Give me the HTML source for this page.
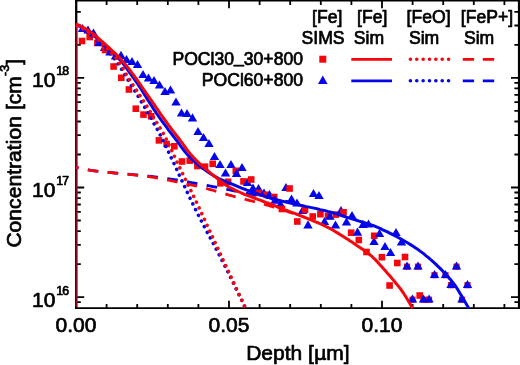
<!DOCTYPE html>
<html lang="en"><head><meta charset="utf-8"><title>Fe concentration depth profile</title>
<style>html,body{margin:0;padding:0;background:#fff}body{width:520px;height:365px;overflow:hidden}svg{display:block}</style>
</head><body>
<svg width="520" height="365" viewBox="0 0 520 365" font-family="'Liberation Sans', Arial, sans-serif" fill="#000" stroke="none">
<rect width="520" height="365" fill="#fff"/>
<defs><clipPath id="c"><rect x="75.6" y="0" width="443" height="309"/></clipPath></defs>
<g stroke="#000" fill="none">
<path d="M76.2,0 V309.0" stroke-width="2.3"/>
<path d="M519,0 V309.0" stroke-width="2.2"/>
<path d="M75.0,308.1 H520" stroke-width="1.9"/>
<path d="M75.0,0.45 H520" stroke-width="2.3"/>
<path d="M106.6,308.1 v-4.0 M106.6,0.45 v4.6 M137.2,308.1 v-4.0 M137.2,0.45 v4.6 M167.8,308.1 v-4.0 M167.8,0.45 v4.6 M198.4,308.1 v-4.0 M198.4,0.45 v4.6 M229.0,308.1 v-7.3 M229.0,0.45 v7.8999999999999995 M259.6,308.1 v-4.0 M259.6,0.45 v4.6 M290.2,308.1 v-4.0 M290.2,0.45 v4.6 M320.8,308.1 v-4.0 M320.8,0.45 v4.6 M351.4,308.1 v-4.0 M351.4,0.45 v4.6 M382.0,308.1 v-7.3 M382.0,0.45 v7.8999999999999995 M412.6,308.1 v-4.0 M412.6,0.45 v4.6 M443.2,308.1 v-4.0 M443.2,0.45 v4.6 M473.8,308.1 v-4.0 M473.8,0.45 v4.6 M504.4,308.1 v-4.0 M504.4,0.45 v4.6" stroke-width="1.8"/>
<path d="M76.2,302.2 h4.6 M519,302.2 h-4.6 M76.2,297.2 h8.0 M519,297.2 h-8.0 M76.2,264.2 h4.6 M519,264.2 h-4.6 M76.2,244.9 h4.6 M519,244.9 h-4.6 M76.2,231.2 h4.6 M519,231.2 h-4.6 M76.2,220.5 h4.6 M519,220.5 h-4.6 M76.2,211.8 h4.6 M519,211.8 h-4.6 M76.2,204.5 h4.6 M519,204.5 h-4.6 M76.2,198.1 h4.6 M519,198.1 h-4.6 M76.2,192.5 h4.6 M519,192.5 h-4.6 M76.2,187.5 h8.0 M519,187.5 h-8.0 M76.2,154.5 h4.6 M519,154.5 h-4.6 M76.2,135.2 h4.6 M519,135.2 h-4.6 M76.2,121.5 h4.6 M519,121.5 h-4.6 M76.2,110.8 h4.6 M519,110.8 h-4.6 M76.2,102.1 h4.6 M519,102.1 h-4.6 M76.2,94.8 h4.6 M519,94.8 h-4.6 M76.2,88.4 h4.6 M519,88.4 h-4.6 M76.2,82.8 h4.6 M519,82.8 h-4.6 M76.2,77.8 h8.0 M519,77.8 h-8.0 M76.2,44.8 h4.6 M519,44.8 h-4.6 M76.2,25.5 h4.6 M519,25.5 h-4.6 M76.2,11.8 h4.6 M519,11.8 h-4.6" stroke-width="1.8"/>
</g>
<g clip-path="url(#c)">
<rect x="78.7" y="37.7" width="6.6" height="6.6" fill="#f6060c"/>
<path d="M82.5,23.9 L87.2,32.1 L77.8,32.1Z" fill="#0505ea"/>
<path d="M88.0,25.4 L92.7,33.6 L83.3,33.6Z" fill="#0505ea"/>
<rect x="86.4" y="33.7" width="6.6" height="6.6" fill="#f6060c"/>
<path d="M93.5,28.4 L98.2,36.6 L88.8,36.6Z" fill="#0505ea"/>
<rect x="94.1" y="39.7" width="6.6" height="6.6" fill="#f6060c"/>
<path d="M99.0,37.9 L103.7,46.1 L94.3,46.1Z" fill="#0505ea"/>
<path d="M104.5,42.9 L109.2,51.1 L99.8,51.1Z" fill="#0505ea"/>
<rect x="101.8" y="46.7" width="6.6" height="6.6" fill="#f6060c"/>
<path d="M110.0,47.4 L114.7,55.6 L105.3,55.6Z" fill="#0505ea"/>
<rect x="110.3" y="63.2" width="6.6" height="6.6" fill="#f6060c"/>
<path d="M115.5,51.4 L120.2,59.6 L110.8,59.6Z" fill="#0505ea"/>
<path d="M121.0,50.7 L125.7,58.9 L116.3,58.9Z" fill="#0505ea"/>
<rect x="118.0" y="74.5" width="6.6" height="6.6" fill="#f6060c"/>
<path d="M126.5,54.9 L131.2,63.1 L121.8,63.1Z" fill="#0505ea"/>
<rect x="125.6" y="86.2" width="6.6" height="6.6" fill="#f6060c"/>
<path d="M132.0,56.9 L136.7,65.1 L127.3,65.1Z" fill="#0505ea"/>
<rect x="132.5" y="105.4" width="6.6" height="6.6" fill="#f6060c"/>
<path d="M137.5,59.9 L142.2,68.1 L132.8,68.1Z" fill="#0505ea"/>
<path d="M143.0,69.9 L147.7,78.1 L138.3,78.1Z" fill="#0505ea"/>
<rect x="140.2" y="111.3" width="6.6" height="6.6" fill="#f6060c"/>
<path d="M148.5,73.4 L153.2,81.6 L143.8,81.6Z" fill="#0505ea"/>
<rect x="147.9" y="113.0" width="6.6" height="6.6" fill="#f6060c"/>
<path d="M154.0,75.9 L158.7,84.1 L149.3,84.1Z" fill="#0505ea"/>
<rect x="155.6" y="137.1" width="6.6" height="6.6" fill="#f6060c"/>
<path d="M159.5,80.4 L164.2,88.6 L154.8,88.6Z" fill="#0505ea"/>
<path d="M165.0,86.9 L169.7,95.1 L160.3,95.1Z" fill="#0505ea"/>
<rect x="163.3" y="140.7" width="6.6" height="6.6" fill="#f6060c"/>
<path d="M170.5,85.4 L175.2,93.6 L165.8,93.6Z" fill="#0505ea"/>
<rect x="171.0" y="143.0" width="6.6" height="6.6" fill="#f6060c"/>
<path d="M176.0,97.4 L180.7,105.6 L171.3,105.6Z" fill="#0505ea"/>
<path d="M181.5,108.4 L186.2,116.6 L176.8,116.6Z" fill="#0505ea"/>
<rect x="178.7" y="158.2" width="6.6" height="6.6" fill="#f6060c"/>
<path d="M187.0,108.9 L191.7,117.1 L182.3,117.1Z" fill="#0505ea"/>
<rect x="186.4" y="157.3" width="6.6" height="6.6" fill="#f6060c"/>
<path d="M192.5,113.2 L197.2,121.4 L187.8,121.4Z" fill="#0505ea"/>
<rect x="194.1" y="162.7" width="6.6" height="6.6" fill="#f6060c"/>
<path d="M198.0,126.9 L202.7,135.1 L193.3,135.1Z" fill="#0505ea"/>
<path d="M203.5,132.9 L208.2,141.1 L198.8,141.1Z" fill="#0505ea"/>
<rect x="201.7" y="163.4" width="6.6" height="6.6" fill="#f6060c"/>
<path d="M209.0,138.9 L213.7,147.1 L204.3,147.1Z" fill="#0505ea"/>
<rect x="209.4" y="160.5" width="6.6" height="6.6" fill="#f6060c"/>
<path d="M214.5,151.9 L219.2,160.1 L209.8,160.1Z" fill="#0505ea"/>
<path d="M220.0,159.9 L224.7,168.1 L215.3,168.1Z" fill="#0505ea"/>
<rect x="217.1" y="180.0" width="6.6" height="6.6" fill="#f6060c"/>
<path d="M225.5,168.4 L230.2,176.6 L220.8,176.6Z" fill="#0505ea"/>
<rect x="224.8" y="178.5" width="6.6" height="6.6" fill="#f6060c"/>
<path d="M231.0,159.9 L235.7,168.1 L226.3,168.1Z" fill="#0505ea"/>
<rect x="232.5" y="167.5" width="6.6" height="6.6" fill="#f6060c"/>
<path d="M236.5,168.9 L241.2,177.1 L231.8,177.1Z" fill="#0505ea"/>
<path d="M242.0,162.9 L246.7,171.1 L237.3,171.1Z" fill="#0505ea"/>
<rect x="240.2" y="178.1" width="6.6" height="6.6" fill="#f6060c"/>
<path d="M247.5,177.9 L252.2,186.1 L242.8,186.1Z" fill="#0505ea"/>
<rect x="247.9" y="176.2" width="6.6" height="6.6" fill="#f6060c"/>
<path d="M253.0,183.4 L257.7,191.6 L248.3,191.6Z" fill="#0505ea"/>
<path d="M258.5,183.9 L263.2,192.1 L253.8,192.1Z" fill="#0505ea"/>
<rect x="255.6" y="189.7" width="6.6" height="6.6" fill="#f6060c"/>
<path d="M264.0,188.4 L268.7,196.6 L259.3,196.6Z" fill="#0505ea"/>
<rect x="263.3" y="191.5" width="6.6" height="6.6" fill="#f6060c"/>
<path d="M269.5,189.9 L274.2,198.1 L264.8,198.1Z" fill="#0505ea"/>
<rect x="270.9" y="193.7" width="6.6" height="6.6" fill="#f6060c"/>
<path d="M275.0,195.5 L279.7,203.7 L270.3,203.7Z" fill="#0505ea"/>
<path d="M280.5,199.4 L285.2,207.6 L275.8,207.6Z" fill="#0505ea"/>
<rect x="278.6" y="205.7" width="6.6" height="6.6" fill="#f6060c"/>
<path d="M286.0,182.9 L290.7,191.1 L281.3,191.1Z" fill="#0505ea"/>
<rect x="286.3" y="185.2" width="6.6" height="6.6" fill="#f6060c"/>
<path d="M291.5,194.4 L296.2,202.6 L286.8,202.6Z" fill="#0505ea"/>
<path d="M297.0,198.4 L301.7,206.6 L292.3,206.6Z" fill="#0505ea"/>
<rect x="294.0" y="218.2" width="6.6" height="6.6" fill="#f6060c"/>
<path d="M302.5,205.9 L307.2,214.1 L297.8,214.1Z" fill="#0505ea"/>
<rect x="301.7" y="206.5" width="6.6" height="6.6" fill="#f6060c"/>
<path d="M308.0,220.3 L312.7,228.5 L303.3,228.5Z" fill="#0505ea"/>
<rect x="309.4" y="213.2" width="6.6" height="6.6" fill="#f6060c"/>
<path d="M313.5,188.9 L318.2,197.1 L308.8,197.1Z" fill="#0505ea"/>
<path d="M319.0,190.9 L323.7,199.1 L314.3,199.1Z" fill="#0505ea"/>
<rect x="317.1" y="210.9" width="6.6" height="6.6" fill="#f6060c"/>
<path d="M324.5,216.9 L329.2,225.1 L319.8,225.1Z" fill="#0505ea"/>
<rect x="324.8" y="212.7" width="6.6" height="6.6" fill="#f6060c"/>
<path d="M330.0,211.5 L334.7,219.7 L325.3,219.7Z" fill="#0505ea"/>
<path d="M335.5,220.4 L340.2,228.6 L330.8,228.6Z" fill="#0505ea"/>
<rect x="332.5" y="211.3" width="6.6" height="6.6" fill="#f6060c"/>
<path d="M341.0,205.9 L345.7,214.1 L336.3,214.1Z" fill="#0505ea"/>
<rect x="340.2" y="209.0" width="6.6" height="6.6" fill="#f6060c"/>
<path d="M346.5,217.4 L351.2,225.6 L341.8,225.6Z" fill="#0505ea"/>
<rect x="347.9" y="229.4" width="6.6" height="6.6" fill="#f6060c"/>
<path d="M352.0,210.9 L356.7,219.1 L347.3,219.1Z" fill="#0505ea"/>
<path d="M357.5,227.6 L362.2,235.8 L352.8,235.8Z" fill="#0505ea"/>
<rect x="355.5" y="236.7" width="6.6" height="6.6" fill="#f6060c"/>
<path d="M363.0,219.9 L367.7,228.1 L358.3,228.1Z" fill="#0505ea"/>
<rect x="363.2" y="248.7" width="6.6" height="6.6" fill="#f6060c"/>
<path d="M368.5,219.4 L373.2,227.6 L363.8,227.6Z" fill="#0505ea"/>
<path d="M374.0,236.9 L378.7,245.1 L369.3,245.1Z" fill="#0505ea"/>
<rect x="370.9" y="232.5" width="6.6" height="6.6" fill="#f6060c"/>
<path d="M379.5,228.9 L384.2,237.1 L374.8,237.1Z" fill="#0505ea"/>
<rect x="378.6" y="253.9" width="6.6" height="6.6" fill="#f6060c"/>
<path d="M385.0,241.9 L389.7,250.1 L380.3,250.1Z" fill="#0505ea"/>
<rect x="386.3" y="282.2" width="6.6" height="6.6" fill="#f6060c"/>
<path d="M390.5,247.9 L395.2,256.1 L385.8,256.1Z" fill="#0505ea"/>
<path d="M396.0,227.9 L400.7,236.1 L391.3,236.1Z" fill="#0505ea"/>
<rect x="394.0" y="259.7" width="6.6" height="6.6" fill="#f6060c"/>
<path d="M401.5,237.4 L406.2,245.6 L396.8,245.6Z" fill="#0505ea"/>
<rect x="401.7" y="253.7" width="6.6" height="6.6" fill="#f6060c"/>
<rect x="403.9" y="263.6" width="6.2" height="6.2" fill="#f6060c"/>
<path d="M407.0,261.4 L411.7,269.6 L402.3,269.6Z" fill="#0505ea"/>
<rect x="409.4" y="296.6" width="6.2" height="6.2" fill="#f6060c"/>
<path d="M412.5,294.4 L417.2,302.6 L407.8,302.6Z" fill="#0505ea"/>
<rect x="414.9" y="263.6" width="6.2" height="6.2" fill="#f6060c"/>
<path d="M418.0,261.4 L422.7,269.6 L413.3,269.6Z" fill="#0505ea"/>
<rect x="416.4" y="292.2" width="6.6" height="6.6" fill="#f6060c"/>
<rect x="420.4" y="296.6" width="6.2" height="6.2" fill="#f6060c"/>
<path d="M423.5,294.4 L428.2,302.6 L418.8,302.6Z" fill="#0505ea"/>
<rect x="425.9" y="296.6" width="6.2" height="6.2" fill="#f6060c"/>
<path d="M429.0,294.4 L433.7,302.6 L424.3,302.6Z" fill="#0505ea"/>
<rect x="431.4" y="272.1" width="6.2" height="6.2" fill="#f6060c"/>
<path d="M434.5,269.9 L439.2,278.1 L429.8,278.1Z" fill="#0505ea"/>
<rect x="442.4" y="272.1" width="6.2" height="6.2" fill="#f6060c"/>
<path d="M445.5,269.9 L450.2,278.1 L440.8,278.1Z" fill="#0505ea"/>
<rect x="447.9" y="282.1" width="6.2" height="6.2" fill="#f6060c"/>
<path d="M451.0,279.9 L455.7,288.1 L446.3,288.1Z" fill="#0505ea"/>
<rect x="453.4" y="263.6" width="6.2" height="6.2" fill="#f6060c"/>
<path d="M456.5,261.4 L461.2,269.6 L451.8,269.6Z" fill="#0505ea"/>
<rect x="458.9" y="296.6" width="6.2" height="6.2" fill="#f6060c"/>
<path d="M462.0,294.4 L466.7,302.6 L457.3,302.6Z" fill="#0505ea"/>
<rect x="464.4" y="282.1" width="6.2" height="6.2" fill="#f6060c"/>
<path d="M467.5,279.9 L472.2,288.1 L462.8,288.1Z" fill="#0505ea"/>
</g><g clip-path="url(#c)" fill="none" stroke-linejoin="round">
<path d="M76.0,167.3 L77.1,167.6 L78.2,167.8 L79.3,168.1 L80.5,168.3 L81.6,168.6 L82.7,168.8 L83.8,169.0 L84.9,169.2 L86.1,169.5 L87.2,169.7 L88.3,169.9 L89.4,170.1 L90.6,170.3 L91.7,170.4 L92.8,170.6 L93.9,170.8 L95.1,170.9 L96.2,171.1 L97.3,171.2 L98.5,171.3 L99.6,171.5 L100.7,171.6 L101.9,171.7 L103.0,171.8 L104.1,172.0 L105.3,172.1 L106.4,172.2 L107.6,172.3 L108.7,172.4 L109.8,172.5 L111.0,172.6 L112.1,172.7 L113.2,172.9 L114.4,173.0 L115.5,173.1 L116.7,173.2 L117.8,173.3 L118.9,173.4 L120.1,173.5 L121.2,173.6 L122.3,173.7 L123.5,173.8 L124.6,173.9 L125.8,174.0 L126.9,174.1 L128.0,174.2 L129.2,174.3 L130.3,174.4 L131.4,174.5 L132.6,174.6 L133.7,174.7 L134.9,174.8 L136.0,174.9 L137.1,175.0 L138.3,175.1 L139.4,175.2 L140.5,175.3 L141.7,175.4 L142.8,175.5 L144.0,175.7 L145.1,175.8 L146.2,175.9 L147.4,176.0 L148.5,176.1 L149.6,176.3 L150.8,176.4 L151.9,176.5 L153.0,176.6 L154.2,176.8 L155.3,176.9 L156.4,177.1 L157.6,177.2 L158.7,177.4 L159.8,177.5 L161.0,177.7 L162.1,177.8 L163.2,178.0 L164.4,178.1 L165.5,178.3 L166.6,178.5 L167.8,178.6 L168.9,178.8 L170.0,179.0 L171.1,179.1 L172.3,179.3 L173.4,179.5 L174.5,179.7 L175.7,179.9 L176.8,180.0 L177.9,180.2 L179.0,180.4 L180.2,180.6 L181.3,180.8 L182.4,181.0 L183.5,181.2 L184.7,181.4 L185.8,181.6 L186.9,181.8 L188.0,182.0 L189.2,182.2 L190.3,182.4 L191.4,182.6 L192.5,182.8 L193.7,183.0 L194.8,183.2 L195.9,183.4 L197.0,183.6 L198.2,183.8 L199.3,184.0 L200.4,184.2 L201.5,184.4 L202.6,184.6 L203.8,184.8 L204.9,185.0 L206.0,185.3 L207.1,185.5 L208.3,185.7 L209.4,185.9 L210.5,186.1 L211.6,186.3 L212.7,186.5 L213.9,186.8 L215.0,187.0 L216.1,187.2 L217.2,187.4 L218.3,187.6 L219.5,187.9 L220.6,188.1 L221.7,188.3 L222.8,188.6 L223.9,188.8 L225.1,189.0 L226.2,189.2 L227.3,189.5 L228.4,189.7 L229.5,189.9 L230.7,190.1 L231.8,190.4 L232.9,190.6 L234.0,190.8 L235.1,191.0 L236.3,191.3 L237.4,191.5 L238.5,191.7 L239.6,191.9 L240.7,192.1 L241.9,192.4 L243.0,192.6 L244.1,192.8 L245.2,193.0 L246.3,193.3 L247.5,193.5 L248.6,193.7 L249.7,193.9 L250.8,194.2 L251.9,194.4 L253.1,194.6 L254.2,194.8 L255.3,195.1 L256.4,195.3 L257.5,195.5 L258.7,195.7 L259.8,196.0 L260.9,196.2 L262.0,196.4 L263.1,196.6 L264.3,196.9 L265.4,197.1 L266.5,197.3 L267.6,197.5 L268.7,197.7 L269.9,198.0 L271.0,198.2 L272.1,198.4 L273.2,198.6 L274.3,198.8 L275.5,199.1 L276.6,199.3 L277.7,199.5 L278.8,199.8 L279.9,200.0 L281.1,200.2 L282.2,200.5 L283.3,200.7 L284.4,200.9 L285.5,201.2 L286.6,201.4 L287.8,201.7 L288.9,201.9 L290.0,202.2 L291.1,202.4 L292.2,202.7 L293.3,202.9 L294.4,203.2 L295.6,203.4 L296.7,203.7 L297.8,204.0 L298.9,204.2 L300.0,204.5" stroke="#0505ea" stroke-width="2.8" stroke-dasharray="10.6 9.4" stroke-dashoffset="7.9"/>
<path d="M245.6,308.5 L244.9,307.0 L244.2,305.5 L243.4,304.0 L242.7,302.5 L242.0,300.9 L241.3,299.4 L240.5,297.9 L239.8,296.4 L239.1,294.9 L238.4,293.4 L237.6,291.9 L236.9,290.4 L236.2,288.9 L235.4,287.4 L234.7,285.9 L234.0,284.4 L233.2,282.8 L232.5,281.3 L231.8,279.8 L231.0,278.3 L230.3,276.8 L229.5,275.3 L228.8,273.8 L228.1,272.3 L227.3,270.8 L226.6,269.3 L225.8,267.8 L225.1,266.3 L224.3,264.8 L223.6,263.3 L222.8,261.9 L222.0,260.4 L221.3,258.9 L220.5,257.4 L219.7,255.9 L219.0,254.4 L218.2,252.9 L217.4,251.4 L216.6,249.9 L215.9,248.5 L215.1,247.0 L214.3,245.5 L213.5,244.0 L212.7,242.5 L211.9,241.1 L211.2,239.6 L210.4,238.1 L209.6,236.6 L208.8,235.1 L208.0,233.7 L207.2,232.2 L206.4,230.7 L205.7,229.2 L204.9,227.7 L204.1,226.3 L203.3,224.8 L202.6,223.3 L201.8,221.8 L201.0,220.3 L200.3,218.8 L199.5,217.3 L198.7,215.8 L198.0,214.3 L197.2,212.8 L196.5,211.4 L195.7,209.9 L195.0,208.4 L194.2,206.9 L193.5,205.4 L192.7,203.8 L192.0,202.3 L191.3,200.8 L190.6,199.3 L189.8,197.8 L189.1,196.3 L188.4,194.8 L187.7,193.3 L187.0,191.7 L186.3,190.2 L185.6,188.7 L184.9,187.2 L184.2,185.7 L183.5,184.1 L182.8,182.6 L182.1,181.1 L181.4,179.6 L180.7,178.0 L180.0,176.5 L179.3,175.0 L178.6,173.5 L177.9,171.9 L177.2,170.4 L176.5,168.9 L175.8,167.4 L175.1,165.9 L174.4,164.4 L173.7,162.8 L172.9,161.3 L172.2,159.8 L171.5,158.3 L170.8,156.8 L170.1,155.3 L169.4,153.7 L168.7,152.2 L167.9,150.7 L167.2,149.2 L166.5,147.7 L165.8,146.2 L165.1,144.7 L164.3,143.2 L163.6,141.7 L162.9,140.1 L162.1,138.6 L161.4,137.2 L160.6,135.7 L159.8,134.2 L159.1,132.7 L158.3,131.2 L157.5,129.7 L156.7,128.3 L155.8,126.8 L155.0,125.3 L154.2,123.9 L153.4,122.4 L152.6,121.0 L151.8,119.5 L151.0,118.0 L150.1,116.6 L149.3,115.1 L148.5,113.6 L147.6,112.2 L146.8,110.8 L145.9,109.3 L145.1,107.9 L144.2,106.5 L143.3,105.0 L142.5,103.6 L141.6,102.2 L140.7,100.7 L139.9,99.3 L139.0,97.8 L138.2,96.4 L137.3,95.0 L136.4,93.5 L135.6,92.1 L134.7,90.7 L133.8,89.2 L132.9,87.8 L132.0,86.4 L131.1,85.0 L130.2,83.6 L129.3,82.2 L128.5,80.7 L127.6,79.3 L126.7,77.9 L125.9,76.4 L125.1,75.0 L124.2,73.5 L123.4,72.1 L122.5,70.6 L121.6,69.2 L120.7,67.8 L119.9,66.4 L119.0,64.9 L118.0,63.6 L117.1,62.2 L116.1,60.8 L115.1,59.5 L114.1,58.1 L113.1,56.8 L112.0,55.5 L110.9,54.2 L109.8,53.0 L108.7,51.8 L107.5,50.5 L106.4,49.3 L105.2,48.1 L104.0,47.0 L102.8,45.8 L101.6,44.6 L100.4,43.4 L99.2,42.3 L98.0,41.1 L96.8,39.9 L95.5,38.8 L94.3,37.7 L93.0,36.6 L91.7,35.6 L90.4,34.6 L89.0,33.6 L87.7,32.6 L86.3,31.6 L84.9,30.7 L83.4,29.8 L82.0,29.0 L80.5,28.2 L79.0,27.4 L77.5,26.7 L76.0,26.0" stroke="#0505ea" stroke-width="3.6" stroke-linecap="round" stroke-dasharray="0.01 6.35" stroke-dashoffset="3.7"/>
<path d="M76.0,24.5 L78.3,25.6 L80.6,26.7 L82.8,27.9 L85.0,29.2 L87.1,30.6 L89.2,32.0 L91.3,33.5 L93.3,35.0 L95.2,36.6 L97.1,38.3 L98.9,40.1 L100.8,41.8 L102.6,43.6 L104.5,45.3 L106.3,47.0 L108.2,48.7 L110.0,50.5 L111.9,52.2 L113.8,53.9 L115.7,55.6 L117.5,57.3 L119.3,59.1 L121.0,61.0 L122.6,62.9 L124.1,64.9 L125.6,67.0 L127.1,69.1 L128.6,71.1 L130.0,73.2 L131.5,75.2 L133.0,77.3 L134.5,79.4 L135.9,81.4 L137.4,83.5 L138.8,85.6 L140.2,87.7 L141.6,89.8 L142.9,92.0 L144.2,94.1 L145.6,96.3 L146.9,98.4 L148.3,100.6 L149.6,102.7 L151.0,104.9 L152.4,107.0 L153.7,109.1 L155.1,111.2 L156.5,113.3 L158.0,115.4 L159.4,117.5 L160.9,119.6 L162.4,121.6 L163.9,123.7 L165.4,125.7 L166.9,127.7 L168.4,129.8 L169.9,131.8 L171.5,133.8 L173.0,135.8 L174.6,137.8 L176.1,139.8 L177.7,141.8 L179.2,143.9 L180.6,145.9 L182.1,148.0 L183.7,150.0 L185.2,152.0 L186.8,153.9 L188.5,155.8 L190.3,157.6 L192.1,159.5 L193.9,161.2 L195.8,162.9 L197.7,164.5 L199.7,166.1 L201.7,167.6 L203.8,169.1 L205.9,170.6 L207.9,172.0 L210.1,173.4 L212.2,174.8 L214.4,176.1 L216.6,177.3 L218.8,178.5 L221.1,179.6 L223.4,180.7 L225.7,181.7 L228.0,182.6 L230.4,183.5 L232.8,184.4 L235.1,185.4 L237.5,186.4 L239.8,187.3 L242.2,188.3 L244.5,189.2 L246.9,190.1 L249.3,190.9 L251.6,191.8 L254.0,192.6 L256.4,193.5 L258.8,194.3 L261.2,195.1 L263.6,195.9 L266.1,196.6 L268.5,197.4 L270.9,198.1 L273.3,198.8 L275.8,199.5 L278.2,200.1 L280.7,200.8 L283.1,201.4 L285.6,202.0 L288.1,202.5 L290.5,203.1 L293.0,203.7 L295.5,204.2 L297.9,204.7 L300.4,205.3 L302.9,205.8 L305.4,206.4 L307.9,206.9 L310.3,207.4 L312.8,207.9 L315.3,208.4 L317.8,209.0 L320.2,209.6 L322.7,210.1 L325.2,210.7 L327.6,211.4 L330.1,212.0 L332.5,212.7 L334.9,213.4 L337.3,214.2 L339.7,215.0 L342.1,215.8 L344.6,216.5 L347.0,217.3 L349.4,218.1 L351.8,218.9 L354.2,219.6 L356.6,220.3 L359.1,221.1 L361.5,221.8 L363.9,222.5 L366.3,223.3 L368.7,224.1 L371.1,224.9 L373.5,225.7 L375.9,226.7 L378.2,227.6 L380.5,228.7 L382.8,229.8 L385.1,230.8 L387.4,231.9 L389.7,233.1 L391.9,234.2 L394.2,235.4 L396.4,236.5 L398.6,237.7 L400.9,239.0 L403.1,240.2 L405.3,241.5 L407.5,242.7 L409.6,244.1 L411.8,245.4 L413.9,246.8 L416.0,248.2 L418.1,249.6 L420.1,251.1 L422.2,252.6 L424.2,254.2 L426.1,255.8 L428.1,257.4 L430.0,259.0 L431.9,260.7 L433.8,262.4 L435.7,264.1 L437.5,265.9 L439.3,267.6 L441.1,269.4 L442.9,271.2 L444.6,273.0 L446.4,274.9 L448.1,276.8 L449.7,278.7 L451.4,280.6 L453.0,282.6 L454.5,284.6 L455.9,286.7 L457.3,288.8 L458.6,291.0 L459.9,293.2 L461.2,295.3 L462.5,297.5 L463.8,299.7 L465.1,301.9 L466.3,304.1 L467.6,306.3 L468.8,308.5" stroke="#0505ea" stroke-width="3"/>
<path d="M76.0,167.3 L77.1,167.6 L78.3,167.8 L79.4,168.1 L80.5,168.3 L81.6,168.6 L82.8,168.8 L83.9,169.0 L85.0,169.3 L86.2,169.5 L87.3,169.7 L88.5,169.9 L89.6,170.1 L90.7,170.3 L91.9,170.5 L93.0,170.6 L94.1,170.8 L95.3,170.9 L96.4,171.1 L97.6,171.2 L98.7,171.4 L99.9,171.5 L101.0,171.6 L102.2,171.7 L103.3,171.9 L104.5,172.0 L105.6,172.1 L106.8,172.2 L107.9,172.3 L109.1,172.4 L110.2,172.5 L111.4,172.7 L112.5,172.8 L113.7,172.9 L114.8,173.0 L116.0,173.1 L117.1,173.2 L118.3,173.4 L119.4,173.5 L120.6,173.6 L121.7,173.7 L122.9,173.8 L124.0,173.9 L125.2,174.0 L126.3,174.1 L127.5,174.2 L128.6,174.3 L129.8,174.5 L130.9,174.6 L132.1,174.7 L133.2,174.8 L134.4,174.9 L135.5,175.1 L136.7,175.2 L137.8,175.3 L139.0,175.5 L140.1,175.6 L141.3,175.7 L142.4,175.8 L143.6,176.0 L144.7,176.1 L145.8,176.3 L147.0,176.4 L148.1,176.6 L149.3,176.7 L150.4,176.9 L151.6,177.0 L152.7,177.2 L153.8,177.4 L155.0,177.6 L156.1,177.8 L157.3,178.0 L158.4,178.2 L159.5,178.4 L160.7,178.6 L161.8,178.8 L162.9,179.1 L164.1,179.3 L165.2,179.5 L166.3,179.7 L167.5,180.0 L168.6,180.2 L169.7,180.4 L170.9,180.7 L172.0,180.9 L173.1,181.1 L174.3,181.3 L175.4,181.6 L176.5,181.8 L177.7,182.0 L178.8,182.2 L179.9,182.5 L181.1,182.7 L182.2,182.9 L183.3,183.1 L184.5,183.4 L185.6,183.6 L186.7,183.8 L187.9,184.1 L189.0,184.3 L190.1,184.6 L191.2,184.8 L192.4,185.1 L193.5,185.3 L194.6,185.6 L195.7,185.9 L196.9,186.1 L198.0,186.4 L199.1,186.7 L200.2,187.0 L201.3,187.3 L202.5,187.5 L203.6,187.8 L204.7,188.1 L205.8,188.4 L206.9,188.7 L208.0,189.0 L209.2,189.3 L210.3,189.6 L211.4,189.9 L212.5,190.2 L213.6,190.5 L214.7,190.8 L215.8,191.2 L216.9,191.5 L218.1,191.8 L219.2,192.1 L220.3,192.5 L221.4,192.8 L222.5,193.1 L223.6,193.5 L224.7,193.8 L225.8,194.1 L226.9,194.4 L228.0,194.7 L229.1,195.1 L230.3,195.4 L231.4,195.7 L232.5,196.0 L233.6,196.3 L234.7,196.6 L235.8,196.9 L237.0,197.2 L238.1,197.5 L239.2,197.7 L240.3,198.0 L241.4,198.3 L242.5,198.6 L243.7,198.9 L244.8,199.2 L245.9,199.5 L247.0,199.8 L248.1,200.1 L249.2,200.4 L250.4,200.7 L251.5,200.9 L252.6,201.2 L253.7,201.5 L254.8,201.8 L256.0,202.1 L257.1,202.4 L258.2,202.7 L259.3,203.0 L260.4,203.3 L261.5,203.6 L262.7,203.9 L263.8,204.2 L264.9,204.5 L266.0,204.8 L267.1,205.1 L268.2,205.4 L269.3,205.7 L270.4,206.1 L271.6,206.4 L272.7,206.7 L273.8,207.1 L274.9,207.4 L276.0,207.7 L277.1,208.1 L278.2,208.4 L279.3,208.8 L280.4,209.1 L281.5,209.5 L282.6,209.8 L283.7,210.2 L284.8,210.6 L285.9,210.9 L287.0,211.3 L288.0,211.7 L289.1,212.1 L290.2,212.4 L291.3,212.8 L292.4,213.2 L293.5,213.6 L294.6,214.0 L295.7,214.4 L296.8,214.8 L297.8,215.2 L298.9,215.6 L300.0,216.0" stroke="#f6060c" stroke-width="2.8" stroke-dasharray="10.6 9.4" stroke-dashoffset="7.9"/>
<path d="M245.6,308.5 L244.9,307.0 L244.2,305.4 L243.5,303.9 L242.8,302.4 L242.1,300.9 L241.4,299.3 L240.7,297.8 L240.0,296.3 L239.3,294.8 L238.5,293.2 L237.8,291.7 L237.1,290.2 L236.4,288.7 L235.7,287.1 L235.0,285.6 L234.3,284.1 L233.6,282.6 L232.9,281.0 L232.2,279.5 L231.5,278.0 L230.8,276.5 L230.1,274.9 L229.4,273.4 L228.7,271.9 L228.0,270.4 L227.3,268.8 L226.6,267.3 L225.8,265.8 L225.1,264.3 L224.4,262.7 L223.7,261.2 L223.0,259.7 L222.3,258.2 L221.6,256.6 L220.9,255.1 L220.2,253.6 L219.5,252.1 L218.8,250.5 L218.1,249.0 L217.4,247.5 L216.7,246.0 L216.0,244.4 L215.3,242.9 L214.6,241.4 L213.9,239.9 L213.2,238.3 L212.5,236.8 L211.8,235.3 L211.1,233.7 L210.4,232.2 L209.6,230.7 L208.9,229.2 L208.2,227.6 L207.5,226.1 L206.8,224.6 L206.1,223.1 L205.4,221.5 L204.7,220.0 L204.0,218.5 L203.3,217.0 L202.6,215.4 L201.9,213.9 L201.2,212.4 L200.5,210.9 L199.8,209.3 L199.0,207.8 L198.3,206.3 L197.6,204.8 L196.9,203.3 L196.2,201.7 L195.5,200.2 L194.7,198.7 L194.0,197.2 L193.3,195.7 L192.6,194.2 L191.8,192.6 L191.1,191.1 L190.4,189.6 L189.7,188.1 L188.9,186.6 L188.2,185.1 L187.5,183.6 L186.7,182.0 L186.0,180.5 L185.3,179.0 L184.5,177.5 L183.8,176.0 L183.1,174.5 L182.3,173.0 L181.6,171.5 L180.9,169.9 L180.1,168.4 L179.4,166.9 L178.7,165.4 L178.0,163.9 L177.2,162.4 L176.5,160.8 L175.8,159.3 L175.1,157.8 L174.4,156.3 L173.7,154.7 L173.0,153.2 L172.3,151.7 L171.6,150.2 L170.9,148.6 L170.1,147.1 L169.4,145.6 L168.7,144.1 L168.0,142.6 L167.2,141.1 L166.5,139.6 L165.7,138.1 L164.9,136.6 L164.1,135.1 L163.3,133.6 L162.5,132.2 L161.7,130.7 L160.8,129.3 L159.9,127.8 L159.0,126.4 L158.2,125.0 L157.3,123.5 L156.4,122.1 L155.5,120.7 L154.7,119.2 L153.8,117.8 L152.9,116.4 L152.0,114.9 L151.2,113.5 L150.3,112.0 L149.5,110.6 L148.6,109.1 L147.7,107.7 L146.9,106.3 L146.0,104.9 L145.0,103.4 L144.1,102.0 L143.2,100.6 L142.3,99.2 L141.3,97.8 L140.4,96.4 L139.5,95.0 L138.6,93.6 L137.7,92.2 L136.8,90.8 L135.9,89.4 L135.0,87.9 L134.0,86.5 L133.1,85.1 L132.2,83.7 L131.3,82.3 L130.4,80.9 L129.4,79.5 L128.5,78.1 L127.7,76.6 L126.8,75.2 L125.9,73.8 L125.1,72.3 L124.2,70.9 L123.4,69.4 L122.5,68.0 L121.6,66.6 L120.7,65.1 L119.8,63.7 L118.9,62.3 L117.9,60.9 L117.0,59.6 L115.9,58.2 L114.9,56.9 L113.8,55.6 L112.7,54.3 L111.6,53.1 L110.5,51.8 L109.3,50.6 L108.2,49.4 L107.0,48.2 L105.8,47.1 L104.5,45.9 L103.3,44.7 L102.1,43.6 L100.9,42.4 L99.6,41.3 L98.4,40.2 L97.1,39.0 L95.9,37.9 L94.6,36.8 L93.3,35.8 L92.0,34.8 L90.6,33.8 L89.2,32.8 L87.8,31.8 L86.4,30.9 L85.0,30.0 L83.5,29.2 L82.1,28.3 L80.6,27.6 L79.1,26.8 L77.6,26.2 L76.0,25.5" stroke="#f6060c" stroke-width="3.6" stroke-linecap="round" stroke-dasharray="0.01 6.35" stroke-dashoffset="3.7"/>
<path d="M76.0,24.0 L78.1,24.9 L80.2,25.9 L82.2,26.9 L84.2,28.0 L86.1,29.1 L88.1,30.3 L90.0,31.6 L91.8,32.9 L93.6,34.2 L95.4,35.7 L97.1,37.1 L98.8,38.7 L100.5,40.2 L102.2,41.7 L103.9,43.2 L105.6,44.7 L107.3,46.2 L109.0,47.7 L110.7,49.3 L112.3,50.8 L114.0,52.3 L115.7,53.9 L117.3,55.5 L118.9,57.1 L120.5,58.7 L122.0,60.4 L123.5,62.1 L124.9,63.9 L126.3,65.6 L127.8,67.4 L129.2,69.2 L130.5,71.0 L131.9,72.8 L133.3,74.6 L134.6,76.5 L136.0,78.3 L137.3,80.1 L138.6,82.0 L139.9,83.9 L141.2,85.7 L142.4,87.6 L143.7,89.5 L145.0,91.4 L146.3,93.3 L147.6,95.1 L148.9,97.0 L150.2,98.8 L151.5,100.7 L152.8,102.6 L154.1,104.4 L155.4,106.3 L156.6,108.2 L157.9,110.0 L159.2,111.9 L160.5,113.8 L161.8,115.6 L163.1,117.5 L164.5,119.3 L165.8,121.2 L167.1,123.0 L168.4,124.9 L169.8,126.7 L171.1,128.5 L172.5,130.3 L173.9,132.1 L175.3,133.9 L176.7,135.7 L178.1,137.5 L179.5,139.3 L180.8,141.1 L182.2,142.9 L183.5,144.8 L184.8,146.7 L186.1,148.5 L187.5,150.3 L188.9,152.1 L190.3,153.9 L191.8,155.6 L193.3,157.2 L194.9,158.9 L196.5,160.5 L198.1,162.1 L199.7,163.7 L201.4,165.2 L203.1,166.7 L204.8,168.2 L206.5,169.7 L208.2,171.2 L210.0,172.7 L211.8,174.1 L213.5,175.5 L215.3,176.9 L217.1,178.3 L218.9,179.7 L220.6,181.2 L222.4,182.6 L224.2,184.0 L226.1,185.2 L228.0,186.4 L230.0,187.5 L232.1,188.5 L234.1,189.6 L236.1,190.6 L238.2,191.5 L240.3,192.5 L242.3,193.4 L244.4,194.3 L246.5,195.1 L248.6,195.9 L250.8,196.7 L252.9,197.5 L255.0,198.3 L257.2,199.1 L259.3,199.9 L261.4,200.7 L263.5,201.5 L265.7,202.3 L267.8,203.0 L269.9,203.8 L272.1,204.6 L274.2,205.5 L276.2,206.4 L278.3,207.3 L280.4,208.2 L282.5,209.0 L284.7,209.8 L286.8,210.5 L288.9,211.3 L291.1,212.1 L293.2,212.9 L295.3,213.7 L297.4,214.5 L299.6,215.3 L301.7,216.2 L303.8,217.0 L305.9,217.8 L308.0,218.7 L310.1,219.5 L312.2,220.4 L314.3,221.3 L316.4,222.1 L318.5,223.0 L320.6,224.0 L322.6,224.9 L324.7,225.9 L326.7,226.8 L328.8,227.9 L330.8,228.9 L332.7,230.0 L334.7,231.2 L336.6,232.4 L338.6,233.6 L340.5,234.7 L342.4,235.9 L344.4,237.2 L346.3,238.4 L348.2,239.6 L350.1,240.9 L352.0,242.1 L353.9,243.4 L355.7,244.7 L357.6,245.9 L359.5,247.2 L361.4,248.5 L363.3,249.8 L365.1,251.1 L366.9,252.4 L368.7,253.8 L370.5,255.2 L372.2,256.7 L373.9,258.3 L375.5,259.9 L377.0,261.5 L378.6,263.2 L380.1,264.9 L381.6,266.6 L383.1,268.3 L384.7,270.0 L386.2,271.7 L387.6,273.4 L389.1,275.1 L390.6,276.8 L392.1,278.6 L393.5,280.3 L395.0,282.0 L396.4,283.8 L397.9,285.6 L399.3,287.3 L400.7,289.1 L402.0,291.0 L403.3,292.8 L404.5,294.7 L405.7,296.6 L406.9,298.6 L408.1,300.5 L409.3,302.5 L410.4,304.5 L411.5,306.5 L412.5,308.5" stroke="#f6060c" stroke-width="3"/>
</g>
<path d="M76.8,23 V307.20000000000005" stroke="#f01030" stroke-width="2.3" opacity="0.55" fill="none"/>
<g stroke="#000" stroke-width="0.7" stroke-linejoin="round">
<text x="76" y="332.3" font-size="21" text-anchor="middle" >0.00</text>
<text x="229" y="332.3" font-size="21" text-anchor="middle" >0.05</text>
<text x="382" y="332.3" font-size="21" text-anchor="middle" >0.10</text>
<text x="32" y="87.4" font-size="21">10<tspan dy="-12" dx="0.9" font-size="12.3" letter-spacing="-0.8">18</tspan></text>
<text x="32" y="197.1" font-size="21">10<tspan dy="-12" dx="0.9" font-size="12.3" letter-spacing="-0.8">17</tspan></text>
<text x="32" y="306.8" font-size="21">10<tspan dy="-12" dx="0.9" font-size="12.3" letter-spacing="-0.8">16</tspan></text>
<text x="246.2" y="360.3" font-size="21" text-anchor="start" >Depth [<tspan font-family="'DejaVu Sans', 'Liberation Sans', sans-serif" font-size="19.5">μ</tspan>m]</text>
<text transform="translate(20.7,247.6) rotate(-90)" font-size="21" textLength="188.6" lengthAdjust="spacing">Concentration [cm<tspan dy="-11.5" font-size="12.5">-3</tspan><tspan dy="11.5">]</tspan></text>
<text x="312" y="23.1" font-size="17.6" text-anchor="start" >[Fe]</text>
<text x="301.6" y="43.5" font-size="17.6" text-anchor="start" >SIMS</text>
<text x="357" y="23.1" font-size="17.6" text-anchor="start" >[Fe]</text>
<text x="353.8" y="43.5" font-size="17.6" text-anchor="start" >Sim</text>
<text x="406.6" y="23.1" font-size="17.6" text-anchor="start" >[FeO]</text>
<text x="408.9" y="43.5" font-size="17.6" text-anchor="start" >Sim</text>
<text x="460.8" y="23.1" font-size="17.6" text-anchor="start" >[FeP+]</text>
<text x="463.9" y="43.5" font-size="17.6" text-anchor="start" >Sim</text>
<text x="303" y="64.7" font-size="17.6" text-anchor="end" >POCl30<tspan dy="-2.4">_</tspan><tspan dy="2.4">30+800</tspan></text>
<text x="303" y="85.6" font-size="17.6" text-anchor="end" >POCl60+800</text>
</g>
<rect x="319.3" y="55.7" width="7.0" height="7.0" fill="#f6060c"/>
<path d="M322.8,75.5 L327.6,83.9 L318.0,83.9Z" fill="#0505ea"/>
<path d="M351.3,59.3 H392" stroke="#f6060c" stroke-width="2.8" fill="none"/>
<path d="M410.4,59.3 H449" stroke="#f6060c" stroke-width="3.6" stroke-linecap="round" stroke-dasharray="0.01 6.35" fill="none"/>
<path d="M462.8,59.3 H474.1 M482.8,59.3 H494.2" stroke="#f6060c" stroke-width="2.8" fill="none"/>
<path d="M351.3,80.8 H392" stroke="#0505ea" stroke-width="2.8" fill="none"/>
<path d="M410.4,80.8 H449" stroke="#0505ea" stroke-width="3.6" stroke-linecap="round" stroke-dasharray="0.01 6.35" fill="none"/>
<path d="M462.8,80.8 H474.1 M482.8,80.8 H494.2" stroke="#0505ea" stroke-width="2.8" fill="none"/>
</svg>
</body></html>
